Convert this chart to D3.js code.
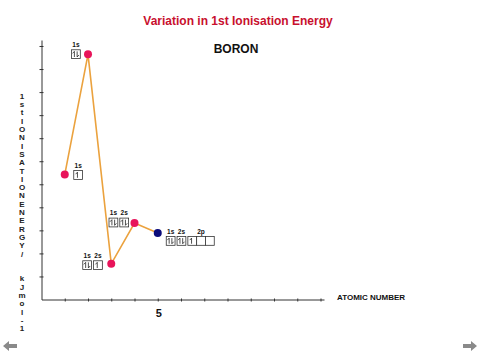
<!DOCTYPE html>
<html>
<head>
<meta charset="utf-8">
<script src="https://cdn.jsdelivr.net/npm/d3@7/dist/d3.min.js"></script>
<style>
  html, body { margin: 0; padding: 0; background: #ffffff; }
  svg { display: block; font-family: "Liberation Sans", Arial, sans-serif; }
</style>
</head>
<body>
<svg id="chart" width="480" height="360"></svg>
<script>
// ---- data ----
const atomicNumbers = [1, 2, 3, 4, 5];
const elements = ["H", "He", "Li", "Be", "B"];
const ionisationEnergy = [1284, 2328, 510, 863, 777];   // kJ mol-1
const highlighted = "B";
const xTickValues = [1, 2, 3, 4, 5, 6, 7, 8, 9, 10, 11, 12];
const xLabelValues = [5];
const yTickValues = [400, 600, 800, 1000, 1200, 1400, 1600, 1800, 2000, 2200, 2400];
const orbitalNames = [["1s"], ["1s"], ["1s", "2s"], ["1s", "2s"], ["1s", "2s", "2p"]];
const orbitalElectrons = [[[1]], [[2]], [[2], [1]], [[2], [2]], [[2], [2], [1, 0, 0]]];
const titleText = "Variation in 1st Ionisation Energy";
const elementName = "BORON";
const xAxisTitle = "ATOMIC NUMBER";
const yAxisTitle = "1stIONISATIONENERGY/  kJmol-1";

// ---- layout ----
const svg = d3.select("#chart");
const x = d3.scaleLinear().domain([0, 12.15]).range([41.5, 324]);
const y = d3.scaleLinear().domain([200, 2452]).range([299.5, 40]);
const axisColor = "#333";

// title
svg.append("text").attr("x", 238).attr("y", 25).attr("text-anchor", "middle")
  .attr("font-size", 12).attr("font-weight", "bold").attr("fill", "#c8102e").text(titleText);
svg.append("text").attr("x", 236).attr("y", 52.5).attr("text-anchor", "middle")
  .attr("font-size", 12).attr("font-weight", "bold").attr("fill", "#111").text(elementName);

// y axis
const yAxisG = svg.append("g").attr("transform", `translate(${x(0)},0)`)
  .call(d3.axisLeft(y).tickValues(yTickValues).tickSize(2).tickSizeOuter(0).tickFormat(""));
yAxisG.selectAll(".tick line").attr("x1", -2).attr("x2", 2).attr("stroke", axisColor);
yAxisG.select(".domain").attr("stroke", axisColor);

// x axis
const xAxisG = svg.append("g").attr("transform", `translate(0,${y(200)})`)
  .call(d3.axisBottom(x).tickValues(xTickValues).tickSize(2).tickSizeOuter(0).tickFormat(""));
xAxisG.selectAll(".tick line").attr("y1", -1).attr("y2", 2).attr("stroke", axisColor);
xAxisG.select(".domain").attr("stroke", axisColor);

svg.selectAll("text.xlab").data(xLabelValues).enter().append("text")
  .attr("class", "xlab").attr("x", d => x(d) + 1).attr("y", 317)
  .attr("text-anchor", "middle").attr("font-size", 11).attr("font-weight", "bold")
  .attr("fill", "#111").text(d => d);

svg.append("text").attr("x", 337).attr("y", 300).attr("font-size", 8)
  .attr("font-weight", "bold").attr("fill", "#111").text(xAxisTitle);

// vertical stacked y title
svg.append("g").selectAll("text").data(yAxisTitle.split("")).enter().append("text")
  .attr("x", 22).attr("y", (d, i) => 96 + i * 8.3)
  .attr("dy", "0.35em").attr("text-anchor", "middle")
  .attr("font-size", 8).attr("font-weight", "bold").attr("fill", "#222").text(d => d);

// data line
const pts = atomicNumbers.map((n, i) => ({ n, e: ionisationEnergy[i], el: elements[i], i }));
svg.append("path").datum(pts)
  .attr("fill", "none").attr("stroke", "#eba23e").attr("stroke-width", 1.6)
  .attr("d", d3.line().x(d => x(d.n)).y(d => y(d.e)));

svg.selectAll("circle.pt").data(pts).enter().append("circle")
  .attr("class", "pt").attr("cx", d => x(d.n)).attr("cy", d => y(d.e)).attr("r", 4)
  .attr("fill", d => d.el === highlighted ? "#0b0b7a" : "#e8145a");

// orbital box diagrams (annotation layout per element)
const boxLayout = {
  H: { dx: 9, dy: -4 },
  He: { dx: -16.5, dy: -4.5 },
  Li: { dx: -28.5, dy: -3 },
  Be: { dx: -25.5, dy: -5 },
  B: { dx: 8.5, dy: 3.5 }
};
const S = 8.8, GAP = 2;

function drawElectron(g, bx, by, count) {
  const stroke = "#222";
  if (count >= 1) {
    const ux = count === 2 ? bx + S * 0.33 : bx + S * 0.42;
    g.append("path").attr("d",
      `M${ux},${by + S * 0.82} L${ux},${by + S * 0.18} L${ux - 1.8},${by + S * 0.18 + 2}`)
      .attr("fill", "none").attr("stroke", stroke).attr("stroke-width", 0.8);
  }
  if (count === 2) {
    const dx2 = bx + S * 0.64;
    g.append("path").attr("d",
      `M${dx2},${by + S * 0.18} L${dx2},${by + S * 0.82} L${dx2 + 1.8},${by + S * 0.82 - 2}`)
      .attr("fill", "none").attr("stroke", stroke).attr("stroke-width", 0.8);
  }
}

pts.forEach(p => {
  const lay = boxLayout[p.el];
  const g = svg.append("g");
  let bx = x(p.n) + lay.dx;
  const by = y(p.e) + lay.dy;
  orbitalElectrons[p.i].forEach((sub, k) => {
    const w = sub.length * S;
    g.append("text").attr("x", bx + w / 2).attr("y", by - 3)
      .attr("text-anchor", "middle").attr("font-size", 6.5).attr("font-weight", "bold")
      .attr("fill", "#111").text(orbitalNames[p.i][k]);
    sub.forEach((c, j) => {
      const cx0 = bx + j * S;
      g.append("rect").attr("x", cx0).attr("y", by).attr("width", S).attr("height", S)
        .attr("fill", "#fff").attr("stroke", "#333").attr("stroke-width", 0.8);
      drawElectron(g, cx0, by, c);
    });
    bx += w + GAP;
  });
});

// navigation arrows
svg.append("path").attr("d", "M3,346 L9,341 L9,344 L17,344 L17,348 L9,348 L9,351 Z").attr("fill", "#8a8a8a");
svg.append("path").attr("d", "M477,346 L471,341 L471,344 L463,344 L463,348 L471,348 L471,351 Z").attr("fill", "#8a8a8a");
</script>
</body>
</html>
